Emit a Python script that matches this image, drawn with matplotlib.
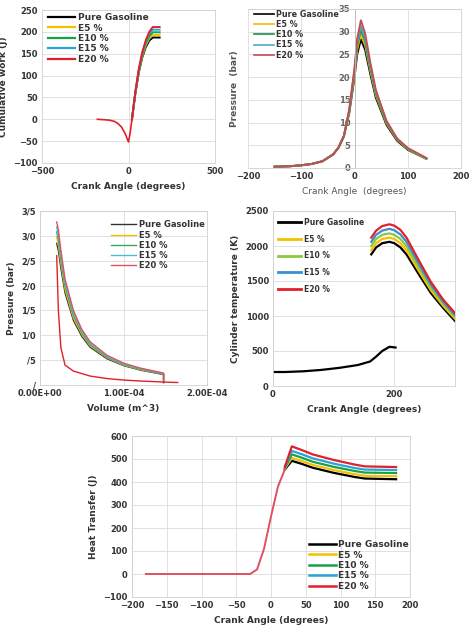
import matplotlib.pyplot as plt

plt.rcParams['font.family'] = ['DejaVu Sans']
plt.rcParams['font.size'] = 6

names = ['Pure Gasoline', 'E5 %', 'E10 %', 'E15 %', 'E20 %']
colors = ['#000000', '#f5c000', '#1a9f4a', '#2aa4d8', '#e0202a']

# Panel 1: cumulative work
w_shared_x = [-180, -140, -110, -80, -60, -40, -20, 0, 10, 20]
w_shared_y = [0, -1, -2, -5, -10, -18, -32, -52, -30, 0]
w_x = [20, 40, 60, 80, 100, 120, 140, 180]
w_y = [
    [0, 60, 108, 142, 165, 180, 187, 187],
    [0, 61, 110, 145, 169, 185, 193, 193],
    [0, 62, 112, 148, 173, 190, 199, 199],
    [0, 63, 114, 151, 177, 195, 205, 205],
    [0, 64, 116, 154, 181, 200, 211, 211],
]

# Panel 2: pressure vs crank angle
p_x = [-150, -120, -100, -80, -60, -40, -30, -20, -10, 0, 5, 12, 20, 30, 40, 60, 80, 100, 135]
p_y = [
    [0.3, 0.4, 0.6, 0.9, 1.5, 3.0, 4.5, 7.0, 12.0, 20.0, 25.0, 28.3, 26.0, 20.5, 15.5, 9.5, 6.0, 4.0, 2.0],
    [0.3, 0.4, 0.6, 0.9, 1.5, 3.0, 4.5, 7.0, 12.2, 20.5, 26.0, 29.5, 27.0, 21.2, 16.0, 9.8, 6.2, 4.1, 2.0],
    [0.3, 0.4, 0.6, 0.9, 1.5, 3.0, 4.5, 7.0, 12.4, 21.0, 26.8, 30.5, 27.9, 21.8, 16.4, 10.0, 6.3, 4.2, 2.1],
    [0.3, 0.4, 0.6, 0.9, 1.5, 3.0, 4.5, 7.0, 12.6, 21.5, 27.4, 31.2, 28.6, 22.3, 16.8, 10.2, 6.4, 4.3, 2.1],
    [0.3, 0.4, 0.6, 0.9, 1.5, 3.0, 4.5, 7.0, 12.8, 22.0, 28.4, 32.5, 29.6, 23.0, 17.2, 10.4, 6.5, 4.4, 2.2],
]
p_colors = ['#000000', '#f5b800', '#1e8c55', '#4fa9c9', '#c0504d']

# Panel 3: P-V diagram
comp_v = [1.65e-4, 1.48e-4, 1.2e-4, 1.0e-4, 8e-5, 6e-5, 4e-5, 3e-5, 2.5e-5, 2.2e-5, 2.0e-5]
comp_p = [0.05, 0.06, 0.08, 0.10, 0.13, 0.18, 0.28, 0.40, 0.75, 1.5, 2.6]
exp_v = [2.0e-5, 2.2e-5, 2.5e-5, 3e-5, 4e-5, 5e-5, 6e-5, 8e-5, 1.0e-4, 1.2e-4, 1.48e-4, 1.48e-4]
exp_p = [
    [2.85, 2.70, 2.35, 1.85, 1.30, 0.98, 0.76, 0.53, 0.39, 0.30, 0.21, 0.05],
    [2.98, 2.82, 2.45, 1.92, 1.35, 1.02, 0.79, 0.55, 0.40, 0.31, 0.22, 0.05],
    [3.08, 2.92, 2.54, 1.99, 1.40, 1.05, 0.81, 0.56, 0.41, 0.32, 0.22, 0.05],
    [3.18, 3.02, 2.62, 2.06, 1.45, 1.09, 0.84, 0.58, 0.42, 0.33, 0.23, 0.05],
    [3.28, 3.12, 2.71, 2.13, 1.50, 1.12, 0.87, 0.60, 0.44, 0.34, 0.24, 0.05],
]
pv_yticks = [0, 0.5, 1.0, 1.5, 2.0, 2.5, 3.0, 3.5]
pv_ylabels = ['/', '/5', '1/0', '1/5', '2/0', '2/5', '3/0', '3/5']
pv_colors = ['#333333', '#f5c000', '#3aa860', '#4fb8dc', '#e05060']

# Panel 4: cylinder temperature
tl_x = [0, 20, 50, 80, 110, 140, 160, 170, 180, 192, 202]
tl_y = [200, 200, 210, 230, 260, 300, 350, 420, 500, 560, 550]
th_x = [162, 170, 180, 192, 200, 210, 220, 240, 260, 280, 300]
th_y = [
    [1880, 1980, 2040, 2060, 2040, 1980, 1880, 1600, 1330, 1120, 930],
    [1940, 2040, 2100, 2120, 2100, 2040, 1940, 1650, 1370, 1150, 960],
    [2000, 2100, 2160, 2180, 2160, 2100, 2000, 1700, 1410, 1180, 990],
    [2060, 2160, 2220, 2245, 2225, 2165, 2060, 1750, 1450, 1210, 1010],
    [2120, 2220, 2285, 2310, 2290, 2230, 2120, 1800, 1490, 1240, 1040],
]
t_colors = ['#000000', '#f5c000', '#8dc63f', '#3a8fd0', '#e0202a']

# Panel 5: heat transfer
h_shared_x = [-180, -100, -40, -30, -20, -10, 0, 10, 20]
h_shared_y = [0, 0, 0, 0, 20, 110, 250, 380, 455]
h_x = [20, 30, 45, 60, 90, 120, 135, 180]
h_y = [
    [455, 492, 478, 462, 440, 422, 415, 412],
    [458, 505, 490, 474, 452, 434, 427, 425],
    [461, 520, 505, 488, 466, 448, 441, 439],
    [464, 535, 520, 503, 480, 461, 454, 452],
    [467, 555, 538, 520, 496, 476, 468, 465],
]

W, H = 474, 630
fig = plt.figure(figsize=(W / 100, H / 100), dpi=100)


def make_ax(x0, y0, x1, y1):
    ax = fig.add_axes([x0 / W, 1 - y1 / H, (x1 - x0) / W, (y1 - y0) / H])
    for s in ax.spines.values():
        s.set_color('#d0d0d0')
        s.set_linewidth(0.6)
    ax.tick_params(length=0, labelsize=6, pad=3)
    ax.grid(True, color='#dcdcdc', linewidth=0.6)
    ax.set_axisbelow(True)
    return ax


def bold_ticks(ax):
    for lab in ax.get_xticklabels() + ax.get_yticklabels():
        lab.set_fontweight('bold')
        lab.set_color('#333333')


def leg(ax, loc, lw=1.6, fs=6.5, anchor=None, spacing=0.15, hl=3):
    kw = dict(loc=loc, frameon=False, fontsize=fs, handlelength=hl, labelspacing=spacing,
              borderpad=0.2, handletextpad=0.3)
    if anchor is not None:
        kw['bbox_to_anchor'] = anchor
    lg = ax.legend(**kw)
    for t in lg.get_texts():
        t.set_fontweight('bold')
        t.set_color('#333333')
    for l in lg.get_lines():
        l.set_linewidth(lw)


# Panel 1
ax = make_ax(42, 10, 215, 163)
for n, c, y in zip(names, colors, w_y):
    ax.plot(w_x, y, color=c, lw=1.4, label=n)
ax.plot(w_shared_x, w_shared_y, color='#e0202a', lw=1.2)
ax.set_xlim(-500, 500)
ax.set_ylim(-100, 250)
ax.set_xticks([-500, 0, 500])
ax.set_yticks(range(-100, 251, 50))
ax.grid(False, axis='x')
ax.axvline(0, color='#dcdcdc', lw=0.6, zorder=0)
ax.set_xlabel('Crank Angle (degrees)', fontweight='bold', fontsize=6.5, color='#333333')
ax.set_ylabel('Cumulative work (J)', fontweight='bold', fontsize=6.5, color='#333333')
bold_ticks(ax)
leg(ax, 'upper left', anchor=(0.0, 1.02))

# Panel 2
ax = make_ax(248, 9, 461, 168)
for n, c, y in zip(names, p_colors, p_y):
    ax.plot(p_x, y, color=c, lw=1.4, label=n)
ax.set_xlim(-200, 200)
ax.set_ylim(0, 35)
ax.set_xticks([-200, -100, 0, 100, 200])
ax.set_yticks([0, 5, 10, 15, 20, 25, 30, 35])
ax.spines['left'].set_position(('data', 0))
ax.spines['left'].set_color('#bbbbbb')
ax.set_xlabel('Crank Angle  (degrees)', fontsize=6.5, color='#555555')
ax.set_ylabel('Pressure  (bar)', fontweight='bold', fontsize=6.5, color='#555555')
ax.yaxis.set_label_coords(-0.04, 0.5)
bold_ticks(ax)
for lab in ax.get_yticklabels():
    lab.set_color('#666666')
leg(ax, 'upper left', lw=1.2, fs=5.8, anchor=(0.0, 1.03), hl=2.5)

# Panel 3
ax = make_ax(40, 211, 207, 385)
for n, c, y in zip(names, pv_colors, exp_p):
    ax.plot(exp_v, y, color=c, lw=1.0, label=n)
ax.plot(comp_v, comp_p, color='#e0202a', lw=1.0)
ax.set_xlim(0, 2e-4)
ax.set_ylim(0, 3.5)
ax.set_xticks([0, 1e-4, 2e-4])
ax.set_xticklabels(['0.00E+00', '1.00E-04', '2.00E-04'])
ax.set_yticks(pv_yticks)
ax.set_yticklabels(pv_ylabels)
ax.set_xlabel('Volume (m^3)', fontweight='bold', fontsize=6.5, color='#333333')
ax.set_ylabel('Pressure (bar)', fontweight='bold', fontsize=6.5, color='#333333')
bold_ticks(ax)
leg(ax, 'upper right', lw=1.0, fs=6.0, anchor=(1.02, 0.98))

# Panel 4
ax = make_ax(273, 211, 455, 386)
ax.plot(tl_x, tl_y, color='#000000', lw=1.6)
for n, c, y in zip(names, t_colors, th_y):
    ax.plot(th_x, y, color=c, lw=1.6, label=n)
ax.set_xlim(0, 300)
ax.set_ylim(0, 2500)
ax.set_xticks([0, 200])
ax.set_yticks(range(0, 2501, 500))
ax.set_xlabel('Crank Angle (degrees)', fontweight='bold', fontsize=6.5, color='#333333')
ax.set_ylabel('Cylinder temperature (K)', fontweight='bold', fontsize=6.5, color='#333333')
bold_ticks(ax)
leg(ax, 'upper left', lw=2.0, fs=5.5, anchor=(0.0, 0.99), spacing=1.0)

# Panel 5
ax = make_ax(132, 436, 410, 597)
for n, c, y in zip(names, colors, h_y):
    ax.plot(h_x, y, color=c, lw=1.6, label=n)
ax.plot(h_shared_x, h_shared_y, color='#e05060', lw=1.4)
ax.set_xlim(-200, 200)
ax.set_ylim(-100, 600)
ax.set_xticks(range(-200, 201, 50))
ax.set_yticks(range(-100, 601, 100))
ax.set_xlabel('Crank Angle (degrees)', fontweight='bold', fontsize=6.5, color='#333333')
ax.set_ylabel('Heat Transfer (J)', fontweight='bold', fontsize=6.5, color='#333333')
bold_ticks(ax)
leg(ax, 'lower right', lw=1.8, fs=6.5, anchor=(1.02, 0.0))

fig.savefig('out.png', dpi=100, facecolor='white')
